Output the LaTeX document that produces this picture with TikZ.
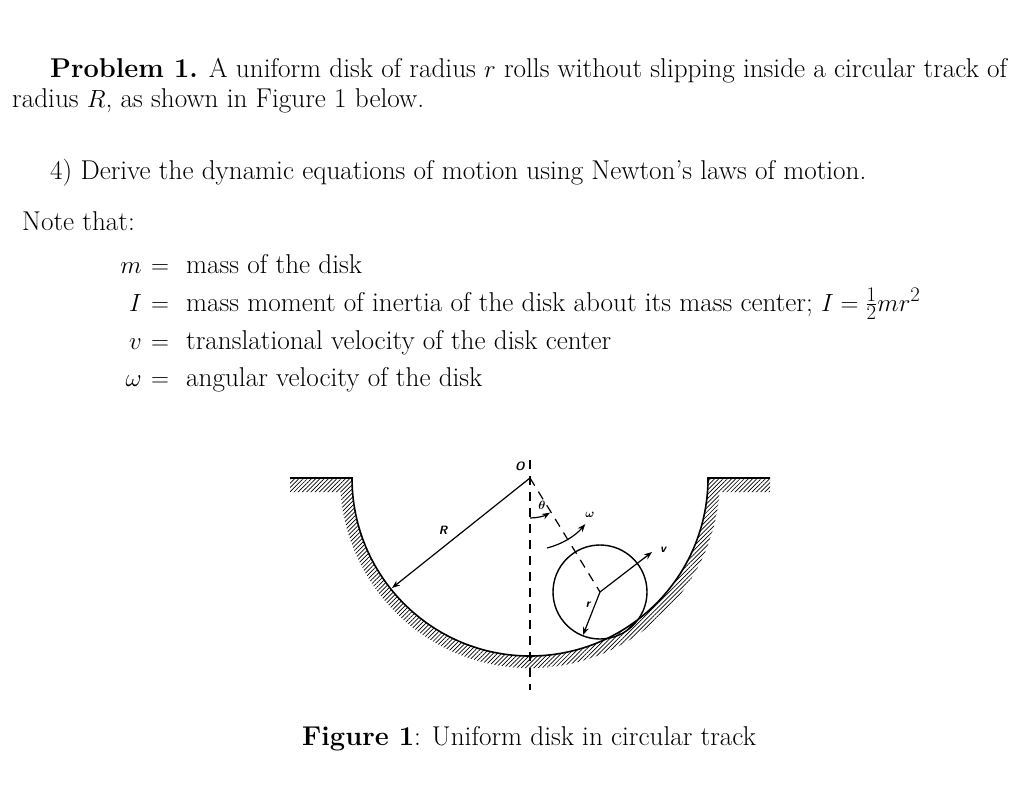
\documentclass[tikz,border=0pt]{standalone}
\usepackage{amsmath}
\usetikzlibrary{patterns.meta,arrows.meta,calc}
\begin{document}
\begin{tikzpicture}[x=1pt,y=-1pt,
  txt/.style={anchor=base west,inner sep=0pt,font=\fontsize{27.2}{32}\selectfont},
  lbl/.style={inner sep=0pt,font=\sffamily\bfseries\itshape\fontsize{12}{14}\selectfont},
  arr/.style={-{Stealth[length=8pt,width=6pt]},line width=1.2pt}]
\useasboundingbox (0,0) rectangle (1024,786);
\node[txt] (t1) at (50,78) {\textbf{Problem 1.} A uniform disk of radius $r$ rolls without slipping inside a circular track of};
\node[txt] (t2) at (12,108) {radius $R$, as shown in Figure 1 below.};
\node[txt] (t3) at (50,180) {4) Derive the dynamic equations of motion using Newton's laws of motion.};
\node[txt] (t4) at (22,230) {Note that:};
\foreach \y/\l/\r [count=\i] in {273/m/mass of the disk,311/I/{mass moment of inertia of the disk about its mass center; $I=\tfrac{1}{2}mr^2$},349/v/translational velocity of the disk center,386/\omega/angular velocity of the disk}{
  \node[txt,anchor=base east] (l\i) at (142,\y) {$\l$};
  \node[txt] (e\i) at (151,\y) {$=$};
  \node[txt] (r\i) at (186,\y) {\r};
}
\node[txt] (cap) at (302,745) {\textbf{Figure 1}: Uniform disk in circular track};
% track
\coordinate (O) at (530,478);
\fill[pattern={Lines[angle=45,distance=3pt,line width=0.7pt]}]
  (290,478) -- (352,478) arc[start angle=180,end angle=0,radius=178] -- (770,478) -- (770,492) -- (719.5,492)
  arc[start angle=4.2,end angle=175.8,radius=190] -- (290,492) -- cycle;
\draw[line width=1.6pt] (290,478) -- (352,478) arc[start angle=180,end angle=0,radius=178] -- (770,478);
% axes
\draw[line width=1.2pt,dash pattern=on 9pt off 7pt] (530,460) -- (530,690);
\coordinate (C) at (600,592);
\draw[line width=1.2pt,dash pattern=on 9pt off 7pt] (O) -- (C);
\node[lbl] (Ol) at (520,466) {O};
% disk
\draw[line width=1.4pt] (C) circle[radius=47];
\coordinate (Rend) at (392,588);
\draw[arr] (O) -- (Rend);
\node[lbl] (Rl) at (443,530) {R};
\coordinate (vend) at (652,552);
\draw[arr] (C) -- (vend);
\node[lbl] (vl) at (663,550) {v};
\coordinate (rend) at (583,635);
\draw[arr] (C) -- (rend);
\node[lbl] (rl) at (588,605) {r};
\draw[arr] ($(O)+(90:40)$) arc[start angle=90,end angle=60,radius=40];
\node[lbl] (th) at (542,505) {$\boldsymbol\theta$};
\draw[arr] (547,548) arc[start angle=76,end angle=40,radius=73];
\node[lbl] (wl) at (590,515) {$\boldsymbol\omega$};
\end{tikzpicture}
\end{document}
